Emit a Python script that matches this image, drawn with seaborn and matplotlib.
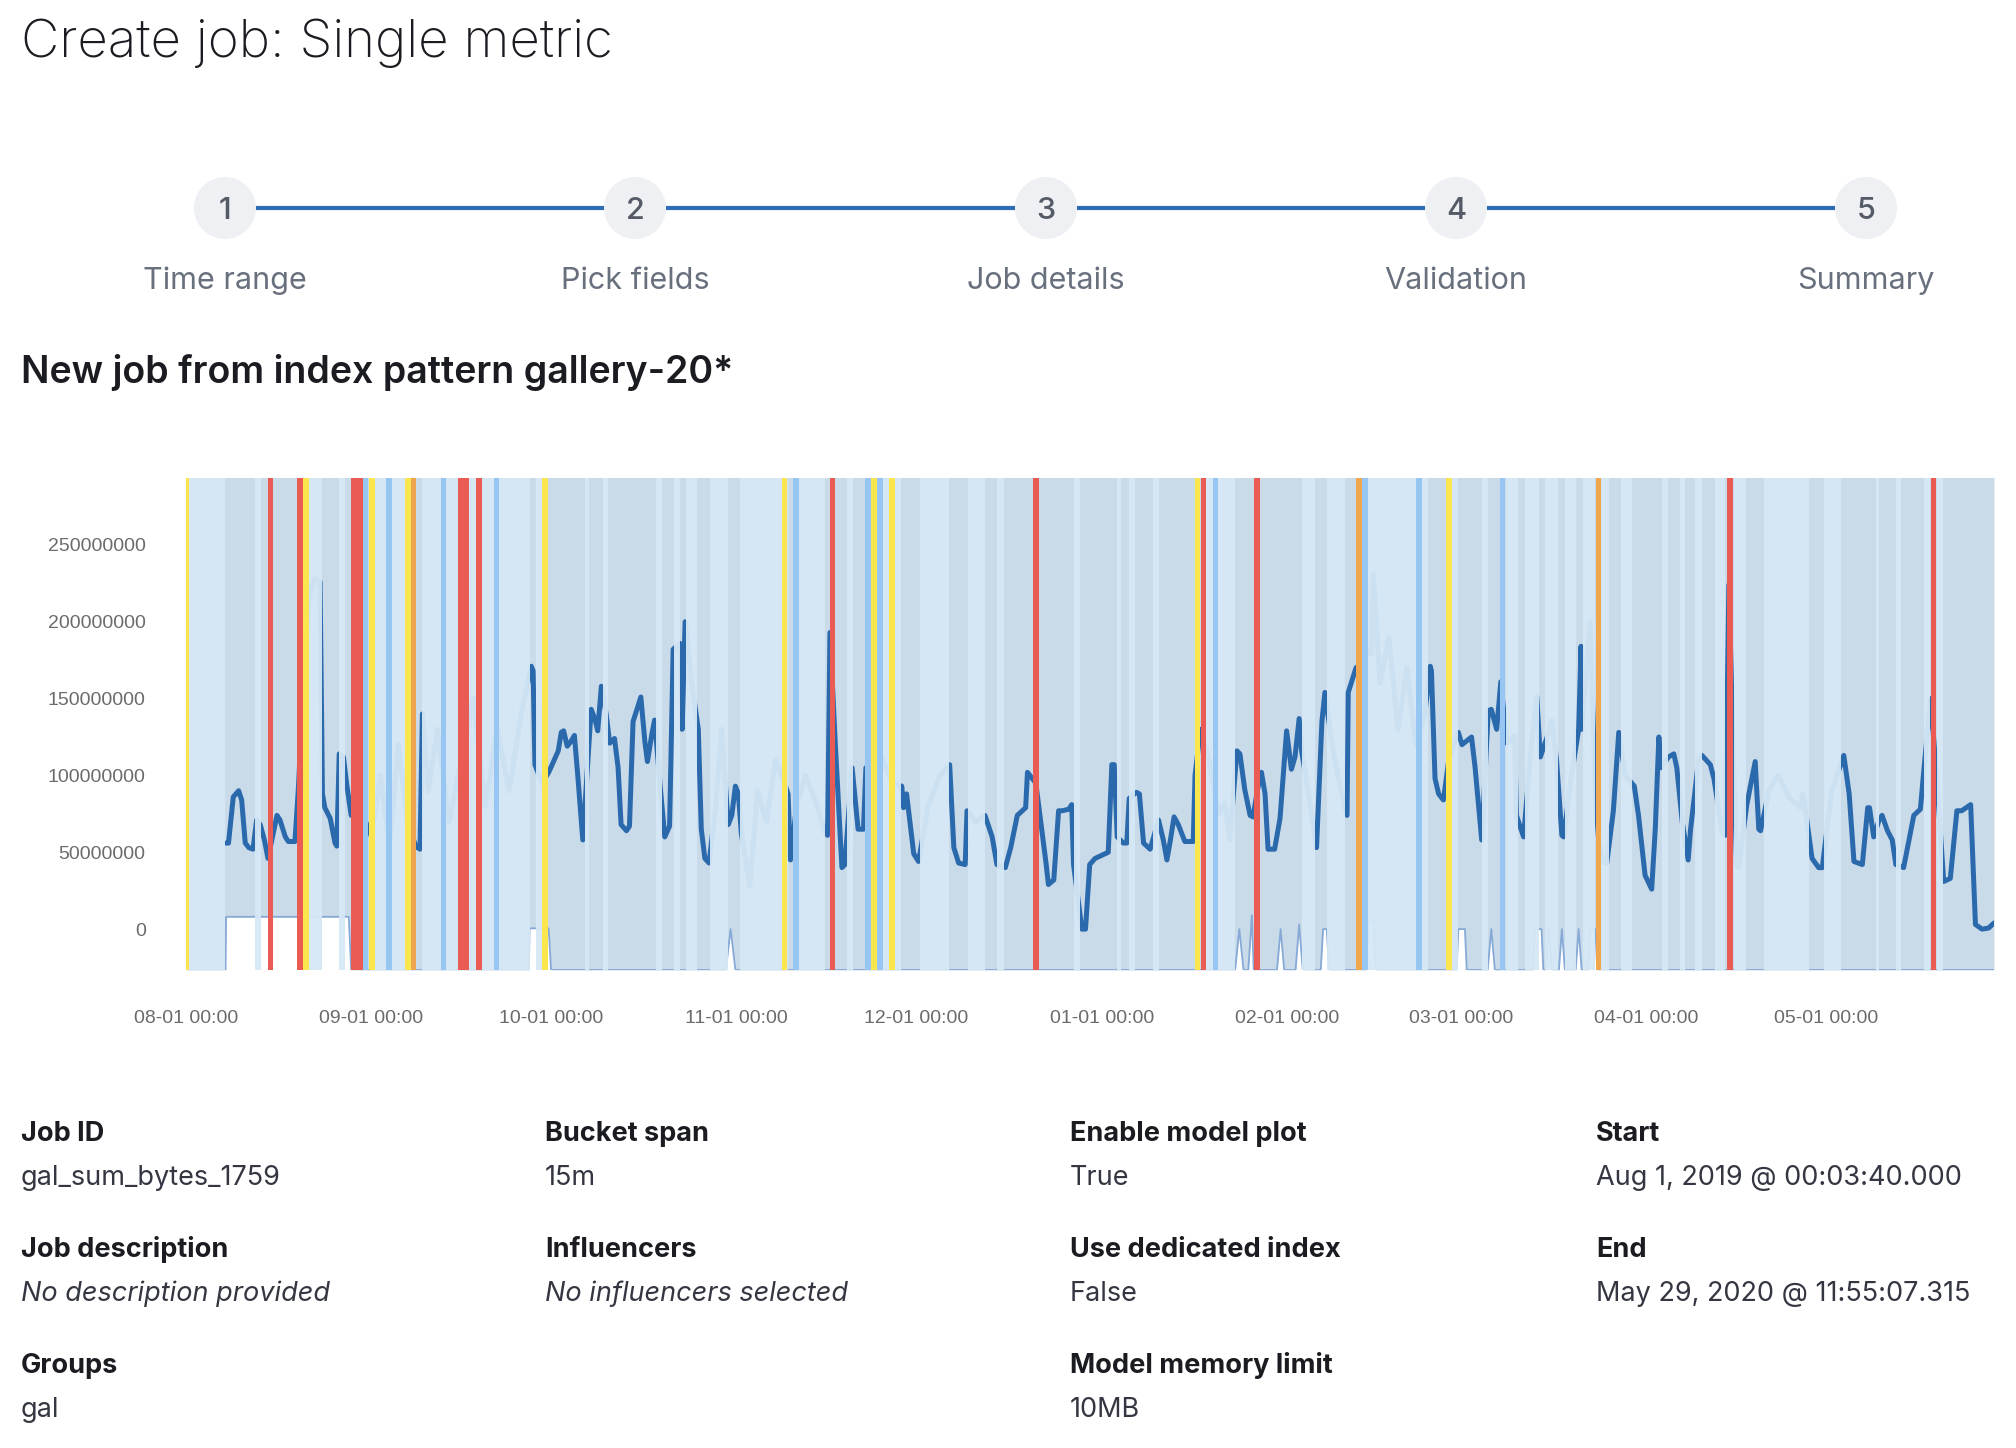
# Create job: Single metric - job summary page with the model plot chart
import numpy as np
import pandas as pd
import matplotlib
matplotlib.use('Agg')
import matplotlib.pyplot as plt
import matplotlib.dates as mdates
from matplotlib.patches import Circle
import seaborn as sns

# ---- data (days since 2019-08-01, values in millions of bytes) ----
line_days = [6.7, 7.1, 7.9, 8.8, 9.3, 9.9, 10.5, 11.2, 11.8, 12.4, 13.1, 13.7, 14.6, 15.2, 15.7,
             16.6, 17.1, 18.2, 18.8, 19.5, 20.5, 21.5, 22.4, 22.8, 23.2, 24.1, 24.9, 25.2, 25.6,
             26.3, 26.9, 27.6, 29.5, 31, 32.5, 34, 35.5, 37, 38.3, 38.7, 39.1, 39.5, 40.5, 42,
             44, 46, 48, 50, 52, 54, 56, 57.7, 58, 58.3, 59.5, 60.6, 61.3, 62.2, 62.7, 63.1,
             63.7, 64.3, 64.9, 65.5, 66.3, 67.7, 68.3, 68.8, 69.4, 70.2, 70.8, 71.6, 72.2, 72.7,
             73.6, 74.1, 74.7, 76, 76.7, 77.1, 77.8, 78.3, 79.3, 80, 80.8, 81.4, 82.5, 82.9,
             83.4, 84.5, 85.6, 86.1, 86.7, 87.4, 88.5, 89.5, 90.6, 91.2, 91.8, 92.3, 92.8, 94.2,
             95.5, 97, 98.5, 100, 100.6, 101, 102, 103.5, 105, 106.8, 107.2, 107.6, 108.5, 109.6,
             110.1, 110.7, 111.3, 112.3, 113.2, 113.6, 115, 116.5, 118, 119.6, 119.9, 120.4,
             121.6, 122.4, 124, 126, 127.6, 128.3, 129.1, 130.2, 130.5, 132, 133.5, 134.7, 135.5,
             136.9, 137.8, 138.9, 140.3, 140.6, 142, 143.7, 144.1, 145, 145.8, 146.4, 147.5, 148,
             148.3, 149.7, 150.3, 151, 151.9, 154.1, 154.7, 155.1, 155.6, 156.6, 157.2, 157.6,
             158.8, 159.3, 160, 161.1, 162.5, 163.3, 163.9, 164.4, 165.1, 165.8, 166.9, 168.3,
             168.6, 169.5, 171, 172.5, 173.6, 174.4, 175.6, 176.1, 176.9, 177.8, 178.3, 179,
             179.7, 180.3, 180.8, 181.9, 182.8, 183.9, 184.7, 185.3, 186, 186.4, 187.5, 188.9,
             189.8, 190.3, 191.5, 193, 194, 194.2, 195.5, 197, 197.6, 198.1, 198.4, 199.5, 201,
             202.5, 204, 205.5, 207, 207.9, 208.1, 208.7, 209.3, 210.1, 211, 212.6, 213.2, 214.8,
             215.4, 216.5, 217.6, 218.1, 219, 219.7, 220.7, 221.5, 222, 222.3, 223.5, 224.8,
             225.7, 226.3, 227.7, 228.2, 229, 229.9, 230.2, 231.5, 232.7, 233.1, 233.2, 234.6,
             235.5, 236, 236.6, 237.4, 238.5, 239.4, 240.5, 242, 242.7, 243.8, 244.9, 245.5,
             246.1, 246.5, 247.7, 248.6, 249.1, 250, 251, 251.4, 252.8, 253.3, 254.7, 255.3,
             256.7, 257.2, 257.8, 258.5, 259.1, 259.4, 260.8, 262.2, 262.8, 263.1, 264.5, 266,
             268, 269.8, 270.1, 270.5, 271.7, 272.8, 273.4, 275, 277, 277.9, 278.7, 280.1, 281,
             281.3, 282, 282.9, 283.4, 284.3, 285.1, 285.7, 287, 288.7, 289.8, 290.3, 291.5,
             292.5, 293.7, 294.8, 295.9, 296.7, 298.2, 299, 300.1, 301.2, 302.1]
line_vals = [56, 56, 86, 90, 84, 56, 53, 52, 71, 68, 58, 46, 63, 74, 71,
             60, 57, 57, 93, 150, 215, 228, 226, 88, 79, 72, 56, 54, 114,
             112, 93, 74, 75, 60, 100, 55, 120, 70, 55, 53, 52, 140, 90, 130,
             70, 110, 150, 80, 130, 90, 140, 171, 168, 107, 95, 102, 108, 116, 128, 129,
             119, 122, 126, 98, 58, 143, 137, 129, 158, 140, 121, 124, 105, 68,
             64, 67, 135, 151, 121, 109, 126, 136, 90, 60, 67, 182, 186, 130,
             200, 160, 130, 65, 46, 43, 80, 130, 68, 74, 93, 88, 62, 28,
             90, 70, 110, 95, 88, 45, 80, 100, 85, 63, 61, 193, 120, 40,
             42, 74, 105, 65, 65, 105, 90, 110, 95, 93, 79, 88,
             49, 44, 80, 100, 107, 53, 43, 42, 77, 70, 74, 60, 42,
             40, 53, 74, 79, 102, 95, 43, 29, 32, 77, 77, 78, 81,
             42, 0, 0, 42, 46, 50, 107, 107, 60, 56, 56, 85,
             89, 88, 56, 52, 71, 58, 45, 56, 73, 68, 57, 57,
             100, 130, 110, 75, 82, 58, 116, 114, 91, 74, 73, 90,
             102, 88, 52, 52, 72, 129, 104, 112, 137, 116, 90, 53,
             135, 154, 120, 90, 74, 154, 170, 175, 181, 179, 231, 160, 190,
             130, 170, 120, 140, 171, 168, 98, 88, 84, 110, 128, 120, 125,
             105, 58, 142, 143, 130, 161, 121, 123, 126, 74, 60, 120,
             151, 112, 128, 136, 110, 61, 60, 100, 130, 184, 130, 200,
             88, 60, 44, 43, 77, 128, 100, 93, 74, 35, 26, 65,
             125, 105, 112, 114, 105, 70, 45, 65, 112, 113, 107, 98,
             63, 61, 224, 120, 42, 40, 81, 109, 65, 64, 90, 100,
             85, 79, 88, 80, 46, 40, 40, 90, 113, 88, 44, 42, 79,
             79, 60, 71, 74, 64, 58, 42, 40, 74, 78, 100, 150,
             100, 31, 33, 77, 77, 81, 3, 0, 0.7, 4]

# lower bound of the model plot (below it the chart stays white)
lower_days = [0, 6.6, 6.7, 27.2, 27.6, 57.3, 57.4, 60.6, 61, 90.2, 91, 91.8, 175.3, 176, 176.7,
              177.5, 178.1, 178.4, 182.3, 182.9, 183.5, 185.4, 186, 186.6, 189.6, 190, 190.6,
              191, 197.2, 197.6, 198.4, 198.8, 212.3, 212.6, 213.7, 214, 217.5, 218.1, 218.7,
              225.1, 225.4, 226.5, 226.8, 227.2, 227.7, 228.2, 229.4, 229.9, 230.4, 232.2,
              232.7, 233.2, 234.3, 234.6, 235.5, 235.8, 302.1]
lower_vals = [-26.6, -26.6, 8, 8, -26.6, -26.6, 0.5, 0.5, -26.6, -26.6, 0, -26.6, -26.6, 0, -26.6,
              -26.6, 9, -26.6, -26.6, 0, -26.6, -26.6, 3, -26.6, -26.6, 0, 0,
              -26.6, -26.6, 5, 5, -26.6, -26.6, 0, 0, -26.6, -26.6, 0, -26.6,
              -26.6, 0, 0, -26.6, -26.6, 0, -26.6, -26.6, 0, -26.6, -26.6,
              0, -26.6, -26.6, 0, 0, -26.6, -26.6]

# lighter vertical bands (start day, end day)
band_start = [0, 11.6, 20.5, 25.6, 31.5, 39.4, 58.5, 66.6, 69.7, 78.5, 81.6, 83.6, 87.5, 92.6,
              101.5, 110.4, 116.5, 122.7, 130.6, 135.5, 148.3, 155.5, 157.5, 161.5, 170.5,
              186.5, 190.6, 197.4, 211.5, 216.5, 220.5, 223.7, 227.0, 230.5, 233.4, 236.5,
              239.8, 246.6, 249.7, 252.2, 255.5, 258.6, 263.6, 273.7, 282.3, 285.7, 290.4, 292.6]
band_end = [6.6, 12.6, 22.7, 26.6, 38.5, 57.4, 59.5, 67.4, 70.5, 79.5, 82.5, 85.3, 90.6, 100.6,
            106.8, 111.5, 119.5, 127.5, 133.5, 136.6, 149.4, 156.3, 158.5, 162.5, 175.3,
            188.6, 193.7, 207.6, 212.6, 217.6, 222.6, 226.0, 229.3, 232.3, 235.5, 237.8,
            241.6, 247.6, 250.5, 253.3, 257.2, 260.6, 271.2, 276.5, 282.9, 286.5, 291.4, 293.5]

# anomaly markers
anomaly_days = [0, 14.1, 19.1, 20.1, 28.1, 29.1, 30.0, 31.1, 33.9, 37.1, 38.0, 43.0, 46.0, 46.9,
                49.0, 51.9, 60.0, 100.0, 101.9, 108.0, 114.0, 115.0, 116.0, 118.0, 142.0,
                169.0, 170.0, 172.0, 179.0, 196.0, 197.0, 206.0, 211.0, 220.0, 236.0, 258.0, 292.0]
anomaly_level = ['minor', 'critical', 'critical', 'minor', 'critical', 'critical', 'warning',
                 'minor', 'warning', 'minor', 'major', 'warning', 'critical', 'critical',
                 'critical', 'warning', 'minor', 'minor', 'warning', 'critical', 'warning',
                 'minor', 'warning', 'minor', 'critical', 'minor', 'critical', 'warning',
                 'critical', 'major', 'warning', 'warning', 'minor', 'warning', 'major',
                 'critical', 'critical']

y_ticks = [0, 50000000, 100000000, 150000000, 200000000, 250000000]
x_ticks = ['2019-08-01', '2019-09-01', '2019-10-01', '2019-11-01', '2019-12-01', '2020-01-01',
           '2020-02-01', '2020-03-01', '2020-04-01', '2020-05-01']

step_labels = ['Time range', 'Pick fields', 'Job details', 'Validation', 'Summary']

detail_titles = [['Job ID', 'Bucket span', 'Enable model plot', 'Start'],
                 ['Job description', 'Influencers', 'Use dedicated index', 'End'],
                 ['Groups', '', 'Model memory limit', '']]
detail_values = [['gal_sum_bytes_1759', '15m', 'True', 'Aug 1, 2019 @ 00:03:40.000'],
                 ['No description provided', 'No influencers selected', 'False',
                  'May 29, 2020 @ 11:55:07.315'],
                 ['gal', '', '10MB', '']]

severity_colors = {'critical': '#ea5b53', 'major': '#f0a64f', 'minor': '#fbe64e', 'warning': '#97c6f2'}

# ---- figure ----
sns.set_style('white')
plt.rcParams['font.family'] = ['Inter', 'DejaVu Sans']

start = pd.Timestamp('2019-08-01 00:00')


def to_date(days):
    return start + pd.to_timedelta(np.asarray(days, dtype=float), unit='D')


fig = plt.figure(figsize=(20.16, 14.48), dpi=100)
ui = fig.add_axes([0, 0, 1, 1])
ui.set_xlim(0, 2016)
ui.set_ylim(1448, 0)
ui.axis('off')

ui.text(21, 57, 'Create job: Single metric', fontsize=38, fontweight='light', color='#1a1c21')

step_x = [225, 635, 1046, 1456, 1866]
for i in range(len(step_x) - 1):
    ui.plot([step_x[i] + 31, step_x[i + 1] - 31], [208, 208], color='#2d6db3', lw=3, solid_capstyle='butt')
for i, (sx, lab) in enumerate(zip(step_x, step_labels)):
    ui.add_patch(Circle((sx, 208), 31, color='#eef0f3', lw=0))
    ui.text(sx, 219, str(i + 1), ha='center', va='baseline', fontsize=22, fontweight='medium', color='#545a66')
    ui.text(sx, 289, lab, ha='center', va='baseline', fontsize=22, color='#69707d')

ui.text(21, 383, 'New job from index pattern gallery-20*', fontsize=27, fontweight='semibold', color='#1a1c21')

col_x = [21, 545, 1070, 1596]
row_y = [1141, 1257, 1373]
for r, y in enumerate(row_y):
    for c, x in enumerate(col_x):
        if detail_titles[r][c]:
            ui.text(x, y, detail_titles[r][c], fontsize=19.5, fontweight='bold', color='#1a1c21')
        val = detail_values[r][c]
        if val:
            ui.text(x, y + 44, val, fontsize=19.5, color='#343741',
                    fontstyle='italic' if val.startswith('No ') else 'normal')

# ---- chart ----
left, right, top, bottom = 186, 1994, 478, 970
ax = fig.add_axes([left / 2016, 1 - bottom / 1448, (right - left) / 2016, (bottom - top) / 1448])

line_df = pd.DataFrame({'time': to_date(line_days), 'value': np.array(line_vals) * 1e6})
lower_t = to_date(lower_days)
lower_v = np.array(lower_vals) * 1e6

ax.fill_between(lower_t, lower_v, 400e6, color='#c9dae9', lw=0, zorder=1)
ax.plot(lower_t, lower_v, color='#86a9d6', lw=1.3, zorder=1.5)
sns.lineplot(data=line_df, x='time', y='value', ax=ax, color='#2b69ad', lw=3.6, zorder=2,
             solid_joinstyle='round', solid_capstyle='round')

for s, e in zip(band_start, band_end):
    ax.axvspan(to_date(s), to_date(e), color='#d6e8f6', alpha=0.94, lw=0, zorder=3)

for d, lvl in zip(anomaly_days, anomaly_level):
    ax.axvspan(to_date(d - 0.47), to_date(d + 0.47), color=severity_colors[lvl], lw=0, zorder=4)

ax.set_xlim(start, to_date(302.1))
ax.set_ylim(-26.6e6, 293.5e6)
ax.set_xticks(pd.to_datetime(x_ticks))
ax.xaxis.set_major_formatter(mdates.DateFormatter('%m-%d %H:%M'))
ax.set_yticks(y_ticks)
ax.set_yticklabels([str(v) for v in y_ticks])
ax.set_xlabel('')
ax.set_ylabel('')
for sp in ax.spines.values():
    sp.set_visible(False)
ax.tick_params(axis='x', length=15, width=1.5, color='#e4e4e4', pad=14, labelsize=14,
               labelcolor='#6b6b6b', labelfontfamily='Liberation Sans')
ax.tick_params(axis='y', length=17, width=1.5, color='#e4e4e4', pad=12, labelsize=14,
               labelcolor='#6b6b6b', labelfontfamily='Liberation Sans')

fig.savefig('out.png', dpi=100)
